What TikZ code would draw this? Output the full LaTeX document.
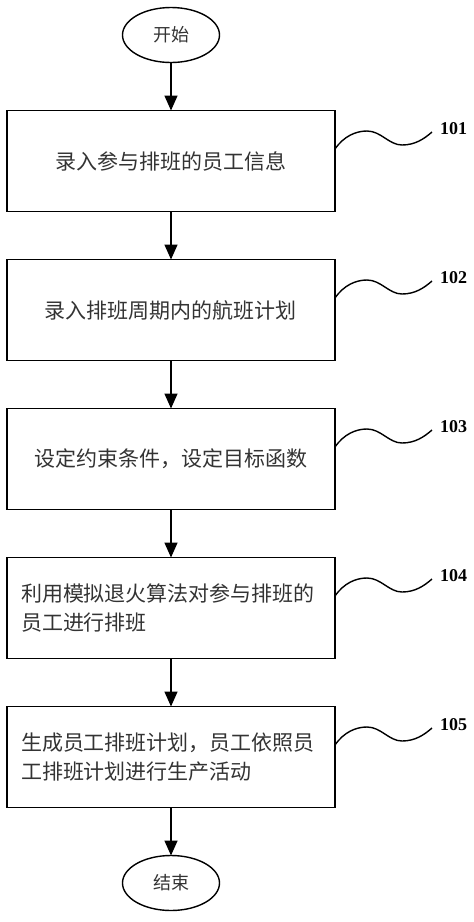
\documentclass[tikz,border=0pt]{standalone}
\usepackage{fontspec}
\setmainfont{Liberation Serif}
\newfontfamily\cjk{Noto Sans CJK SC}
\usetikzlibrary{arrows.meta,positioning,shapes.geometric}
\tikzset{
  terminal/.style={
    ellipse,
    draw=black,
    line width=1.4pt,
    minimum width=97pt,
    minimum height=55pt,
    inner sep=0pt,
    outer sep=0pt,
    font=\cjk\fontsize{18}{22}\selectfont,
    text=black!80
  },
  stepbox/.style={
    rectangle,
    draw=black,
    line width=1.6pt,
    minimum width=328pt,
    minimum height=101pt,
    text width=300pt,
    align=center,
    inner sep=0pt,
    outer sep=0pt,
    font=\cjk\fontsize{21}{29}\selectfont,
    text=black!80
  },
  wave/.style={
    line width=1.4pt,
    black
  },
  num/.style={
    anchor=west,
    inner sep=0pt,
    font=\bfseries\fontsize{18}{20}\selectfont
  },
  arrow/.style={
    -{Triangle[length=15pt,width=13pt]},
    line width=1.6pt,
    black
  }
}

\begin{document}
\begin{tikzpicture}[x=1pt,y=1pt,node distance=48pt]
\useasboundingbox (0,0) rectangle (474,-922);
\node[terminal] (start) at (171,-35) {开始};
\node[stepbox,below=of start] (b1) {录入参与排班的员工信息};
\node[stepbox,below=of b1] (b2) {录入排班周期内的航班计划};
\node[stepbox,below=of b2] (b3) {设定约束条件，设定目标函数};
\node[stepbox,below=of b3,align=left] (b4) {利用模拟退火算法对参与排班的\\员工进行排班};
\node[stepbox,below=of b4,align=left] (b5) {生成员工排班计划，员工依照员\\工排班计划进行生产活动};
\node[terminal,below=of b5] (stop) {结束};
\draw[arrow] (start) -- (b1);
\draw[arrow] (b1) -- (b2);
\draw[arrow] (b2) -- (b3);
\draw[arrow] (b3) -- (b4);
\draw[arrow] (b4) -- (b5);
\draw[arrow] (b5) -- (stop);
% step numbers
\node[num] (n1) at ([shift={(105,32)}]b1.east) {101};
\node[num] (n2) at ([shift={(105,32)}]b2.east) {102};
\node[num] (n3) at ([shift={(105,32)}]b3.east) {103};
\node[num] (n4) at ([shift={(105,32)}]b4.east) {104};
\node[num] (n5) at ([shift={(105,32)}]b5.east) {105};
% wavy leaders
\draw[wave,shift={(b1.east)}] (0,12) .. controls (9,25) and (21,30) .. (32,30) .. controls (46,30) and (54,16) .. (67,16) .. controls (80,16) and (89,22) .. (97,29);
\draw[wave,shift={(b2.east)}] (0,12) .. controls (9,25) and (21,30) .. (32,30) .. controls (46,30) and (54,16) .. (67,16) .. controls (80,16) and (89,22) .. (97,29);
\draw[wave,shift={(b3.east)}] (0,12) .. controls (9,25) and (21,30) .. (32,30) .. controls (46,30) and (54,16) .. (67,16) .. controls (80,16) and (89,22) .. (97,29);
\draw[wave,shift={(b4.east)}] (0,12) .. controls (9,25) and (21,30) .. (32,30) .. controls (46,30) and (54,16) .. (67,16) .. controls (80,16) and (89,22) .. (97,29);
\draw[wave,shift={(b5.east)}] (0,12) .. controls (9,25) and (21,30) .. (32,30) .. controls (46,30) and (54,16) .. (67,16) .. controls (80,16) and (89,22) .. (97,29);
\end{tikzpicture}
\end{document}
